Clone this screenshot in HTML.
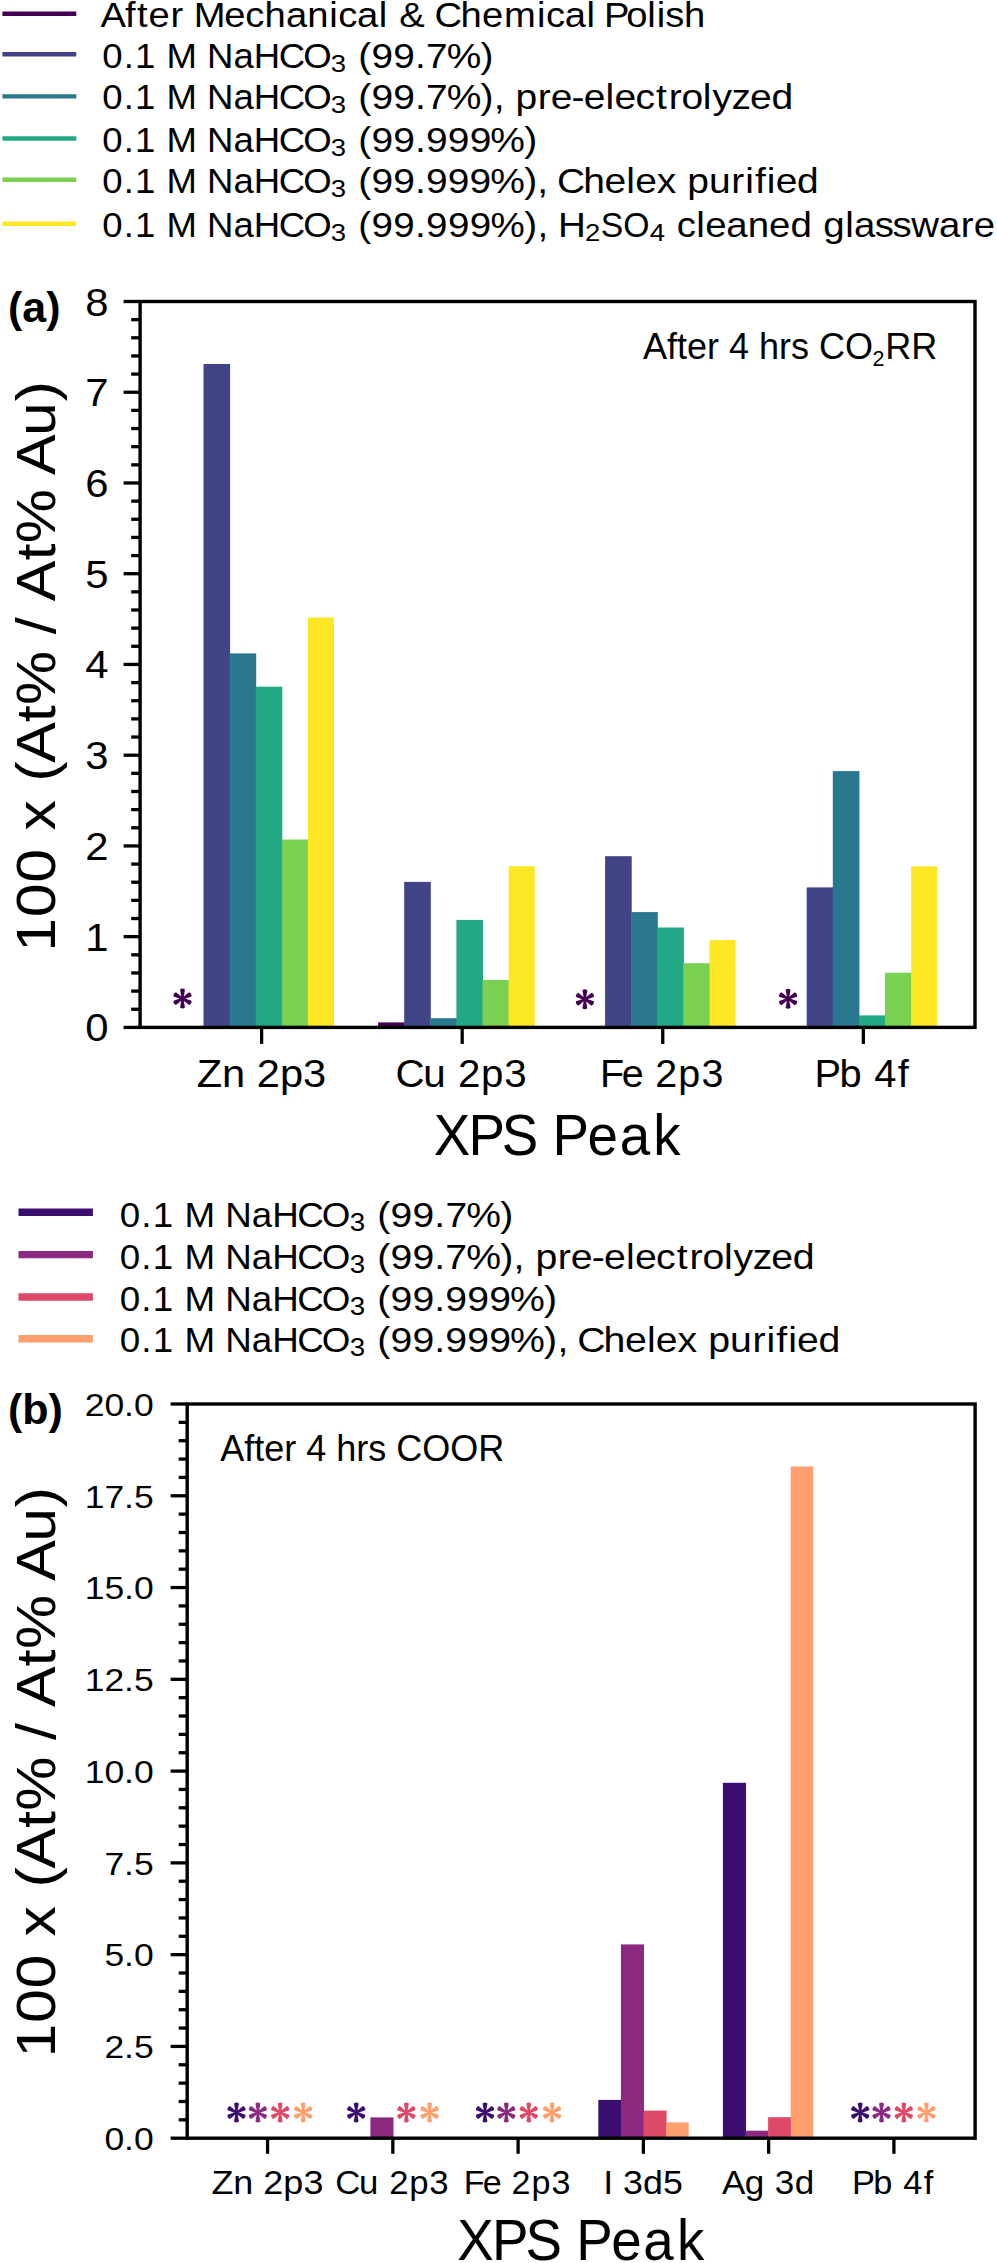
<!DOCTYPE html>
<html><head><meta charset="utf-8"><title>XPS Peak</title>
<style>
html,body{margin:0;padding:0;background:#fff;}
body{width:997px;height:2263px;overflow:hidden;}
svg{display:block;}
text{font-family:"Liberation Sans",sans-serif;}
</style></head><body>
<svg width="997" height="2263" viewBox="0 0 997 2263">
<rect width="997" height="2263" fill="#fff"/>
<line x1="2.40" y1="13.80" x2="76.30" y2="13.80" stroke="#440154" stroke-width="4.4" stroke-linecap="butt"/>
<line x1="2.40" y1="54.30" x2="76.30" y2="54.30" stroke="#414487" stroke-width="4.4" stroke-linecap="butt"/>
<line x1="2.40" y1="96.40" x2="76.30" y2="96.40" stroke="#2a788e" stroke-width="4.4" stroke-linecap="butt"/>
<line x1="2.40" y1="138.50" x2="76.30" y2="138.50" stroke="#22a884" stroke-width="4.4" stroke-linecap="butt"/>
<line x1="2.40" y1="179.80" x2="76.30" y2="179.80" stroke="#7ad151" stroke-width="4.4" stroke-linecap="butt"/>
<line x1="2.40" y1="223.70" x2="76.30" y2="223.70" stroke="#fde725" stroke-width="4.4" stroke-linecap="butt"/>
<text xml:space="preserve" transform="translate(101.50 26.70) scale(1.0801 1)" x="-0.93 21.85 32.82 43.63 63.86 76.40 85.35 113.72 133.19 151.01 170.80 190.59 210.94 219.18 236.67 256.68 265.17 275.71 300.03 308.30 332.41 352.24 372.57 403.23 411.47 428.95 448.97 457.46 465.19 485.90 505.33 514.16 521.94 539.30" y="0" font-size="35.33" fill="#000">After Mechanical &amp; Chemical Polish</text>
<text xml:space="preserve" transform="translate(101.50 67.60) scale(1.0346 1)" x="0.74 21.46 32.37 53.09 62.86 92.23 102.04 127.56 147.22 171.26 194.91" y="0" font-size="35.33" fill="#000">0.1 M NaHCO</text>
<text xml:space="preserve" transform="translate(330.87 71.60) scale(1.1130 1)" x="0.00" y="0" font-size="24.73" fill="#000">3</text>
<text xml:space="preserve" transform="translate(347.05 67.60) scale(1.0995 1)" x="0.06 10.13 22.21 42.06 61.84 71.82 90.65 121.41" y="0" font-size="35.33" fill="#000"> (99.7%)</text>
<text xml:space="preserve" transform="translate(101.50 108.90) scale(1.0346 1)" x="0.74 21.46 32.37 53.09 62.86 92.23 102.04 127.56 147.22 171.26 194.91" y="0" font-size="35.33" fill="#000">0.1 M NaHCO</text>
<text xml:space="preserve" transform="translate(330.87 112.90) scale(1.1130 1)" x="0.00" y="0" font-size="24.73" fill="#000">3</text>
<text xml:space="preserve" transform="translate(347.05 108.90) scale(1.1043 1)" x="0.03 10.06 22.07 41.83 61.55 71.47 90.19 120.85 132.82 142.69 152.58 172.76 184.43 203.17 214.40 234.14 242.14 261.21 279.76 291.27 302.88 322.23 330.84 348.18 364.91 384.33" y="0" font-size="35.33" fill="#000"> (99.7%), pre-electrolyzed</text>
<text xml:space="preserve" transform="translate(101.50 151.60) scale(1.0346 1)" x="0.74 21.46 32.37 53.09 62.86 92.23 102.04 127.56 147.22 171.26 194.91" y="0" font-size="35.33" fill="#000">0.1 M NaHCO</text>
<text xml:space="preserve" transform="translate(330.87 155.60) scale(1.1130 1)" x="0.00" y="0" font-size="24.73" fill="#000">3</text>
<text xml:space="preserve" transform="translate(347.05 151.60) scale(1.1026 1)" x="0.04 10.08 22.12 41.91 61.66 71.60 91.39 111.18 129.94 160.64" y="0" font-size="35.33" fill="#000"> (99.999%)</text>
<text xml:space="preserve" transform="translate(101.50 192.90) scale(1.0346 1)" x="0.74 21.46 32.37 53.09 62.86 92.23 102.04 127.56 147.22 171.26 194.91" y="0" font-size="35.33" fill="#000">0.1 M NaHCO</text>
<text xml:space="preserve" transform="translate(330.87 196.90) scale(1.1130 1)" x="0.00" y="0" font-size="24.73" fill="#000">3</text>
<text xml:space="preserve" transform="translate(347.05 192.90) scale(1.1033 1)" x="0.04 10.07 22.10 41.88 61.61 71.54 91.32 111.10 129.84 160.53 172.51 182.39 190.32 213.99 233.40 253.16 261.17 280.63 298.43 308.33 328.05 348.22 360.88 369.70 380.46 388.47 407.90" y="0" font-size="35.33" fill="#000"> (99.999%), Chelex purified</text>
<text xml:space="preserve" transform="translate(101.50 236.50) scale(1.0346 1)" x="0.74 21.46 32.37 53.09 62.86 92.23 102.04 127.56 147.22 171.26 194.91" y="0" font-size="35.33" fill="#000">0.1 M NaHCO</text>
<text xml:space="preserve" transform="translate(330.87 240.50) scale(1.1130 1)" x="0.00" y="0" font-size="24.73" fill="#000">3</text>
<text xml:space="preserve" transform="translate(347.05 236.50) scale(1.0926 1)" x="0.09 10.23 22.41 42.38 62.26 72.34 92.31 112.28 131.27 162.15 174.24 184.22 193.15" y="0" font-size="35.33" fill="#000"> (99.999%), H</text>
<text xml:space="preserve" transform="translate(584.93 240.50) scale(1.1130 1)" x="0.00" y="0" font-size="24.73" fill="#000">2</text>
<text xml:space="preserve" transform="translate(601.10 236.50) scale(0.9553 1)" x="-0.40 23.19" y="0" font-size="35.33" fill="#000">SO</text>
<text xml:space="preserve" transform="translate(649.87 240.50) scale(1.1130 1)" x="0.00" y="0" font-size="24.73" fill="#000">4</text>
<text xml:space="preserve" transform="translate(666.05 236.50) scale(1.0876 1)" x="0.11 9.86 27.82 36.03 55.39 75.05 94.74 114.45 134.38 144.50 164.76 172.93 191.79 208.22 225.40 250.92 271.00 282.90" y="0" font-size="35.33" fill="#000"> cleaned glassware</text>
<rect x="203.50" y="364.00" width="26.60" height="663.40" fill="#414487"/>
<rect x="229.60" y="653.40" width="26.60" height="374.00" fill="#2a788e"/>
<rect x="255.70" y="686.70" width="26.60" height="340.70" fill="#22a884"/>
<rect x="281.80" y="839.50" width="26.60" height="187.90" fill="#7ad151"/>
<rect x="307.90" y="617.60" width="26.10" height="409.80" fill="#fde725"/>
<rect x="378.10" y="1022.40" width="26.60" height="5.00" fill="#440154"/>
<rect x="404.20" y="881.90" width="26.60" height="145.50" fill="#414487"/>
<rect x="430.30" y="1018.20" width="26.60" height="9.20" fill="#2a788e"/>
<rect x="456.40" y="919.90" width="26.60" height="107.50" fill="#22a884"/>
<rect x="482.50" y="980.00" width="26.60" height="47.40" fill="#7ad151"/>
<rect x="508.60" y="866.20" width="26.10" height="161.20" fill="#fde725"/>
<rect x="605.10" y="856.20" width="26.60" height="171.20" fill="#414487"/>
<rect x="631.20" y="912.10" width="26.60" height="115.30" fill="#2a788e"/>
<rect x="657.30" y="927.50" width="26.60" height="99.90" fill="#22a884"/>
<rect x="683.40" y="963.20" width="26.60" height="64.20" fill="#7ad151"/>
<rect x="709.50" y="940.10" width="26.10" height="87.30" fill="#fde725"/>
<rect x="806.70" y="887.40" width="26.60" height="140.00" fill="#414487"/>
<rect x="832.80" y="771.10" width="26.60" height="256.30" fill="#2a788e"/>
<rect x="858.90" y="1015.40" width="26.60" height="12.00" fill="#22a884"/>
<rect x="885.00" y="972.70" width="26.60" height="54.70" fill="#7ad151"/>
<rect x="911.10" y="866.30" width="26.10" height="161.10" fill="#fde725"/>
<path d="M183.40,998.60L184.95,989.60A3.92,3.92 0 0 0 180.05,989.60L181.60,998.60ZM181.60,998.60L180.05,1007.60A3.92,3.92 0 0 0 184.95,1007.60L183.40,998.60ZM182.94,999.39L191.47,996.43A3.92,3.92 0 0 0 189.10,992.14L182.06,997.81ZM182.94,997.81L175.90,992.14A3.92,3.92 0 0 0 173.53,996.43L182.06,999.39ZM182.06,999.39L189.10,1005.06A3.92,3.92 0 0 0 191.47,1000.77L182.94,997.81ZM182.06,997.81L173.53,1000.77A3.92,3.92 0 0 0 175.90,1005.06L182.94,999.39Z" fill="#440154"/>
<path d="M585.80,999.20L587.35,990.20A3.92,3.92 0 0 0 582.45,990.20L584.00,999.20ZM584.00,999.20L582.45,1008.20A3.92,3.92 0 0 0 587.35,1008.20L585.80,999.20ZM585.34,999.99L593.87,997.03A3.92,3.92 0 0 0 591.50,992.74L584.46,998.41ZM585.34,998.41L578.30,992.74A3.92,3.92 0 0 0 575.93,997.03L584.46,999.99ZM584.46,999.99L591.50,1005.66A3.92,3.92 0 0 0 593.87,1001.37L585.34,998.41ZM584.46,998.41L575.93,1001.37A3.92,3.92 0 0 0 578.30,1005.66L585.34,999.99Z" fill="#440154"/>
<path d="M789.00,998.80L790.55,989.80A3.92,3.92 0 0 0 785.65,989.80L787.20,998.80ZM787.20,998.80L785.65,1007.80A3.92,3.92 0 0 0 790.55,1007.80L789.00,998.80ZM788.54,999.59L797.07,996.63A3.92,3.92 0 0 0 794.70,992.34L787.66,998.01ZM788.54,998.01L781.50,992.34A3.92,3.92 0 0 0 779.13,996.63L787.66,999.59ZM787.66,999.59L794.70,1005.26A3.92,3.92 0 0 0 797.07,1000.97L788.54,998.01ZM787.66,998.01L779.13,1000.97A3.92,3.92 0 0 0 781.50,1005.26L788.54,999.59Z" fill="#440154"/>
<line x1="123.60" y1="1027.40" x2="140.10" y2="1027.40" stroke="#000" stroke-width="3.298" stroke-linecap="butt"/>
<text xml:space="preserve" transform="translate(85.18 1041.40) scale(1.0970 1)" x="0.00" y="0" font-size="38.14" fill="#000">0</text>
<line x1="123.60" y1="936.66" x2="140.10" y2="936.66" stroke="#000" stroke-width="3.298" stroke-linecap="butt"/>
<text xml:space="preserve" transform="translate(85.18 950.66) scale(1.0970 1)" x="0.00" y="0" font-size="38.14" fill="#000">1</text>
<line x1="123.60" y1="845.93" x2="140.10" y2="845.93" stroke="#000" stroke-width="3.298" stroke-linecap="butt"/>
<text xml:space="preserve" transform="translate(85.18 859.93) scale(1.0970 1)" x="0.00" y="0" font-size="38.14" fill="#000">2</text>
<line x1="123.60" y1="755.19" x2="140.10" y2="755.19" stroke="#000" stroke-width="3.298" stroke-linecap="butt"/>
<text xml:space="preserve" transform="translate(85.18 769.19) scale(1.0970 1)" x="0.00" y="0" font-size="38.14" fill="#000">3</text>
<line x1="123.60" y1="664.45" x2="140.10" y2="664.45" stroke="#000" stroke-width="3.298" stroke-linecap="butt"/>
<text xml:space="preserve" transform="translate(85.18 678.45) scale(1.0970 1)" x="0.00" y="0" font-size="38.14" fill="#000">4</text>
<line x1="123.60" y1="573.71" x2="140.10" y2="573.71" stroke="#000" stroke-width="3.298" stroke-linecap="butt"/>
<text xml:space="preserve" transform="translate(85.18 587.71) scale(1.0970 1)" x="0.00" y="0" font-size="38.14" fill="#000">5</text>
<line x1="123.60" y1="482.98" x2="140.10" y2="482.98" stroke="#000" stroke-width="3.298" stroke-linecap="butt"/>
<text xml:space="preserve" transform="translate(85.18 496.98) scale(1.0970 1)" x="0.00" y="0" font-size="38.14" fill="#000">6</text>
<line x1="123.60" y1="392.24" x2="140.10" y2="392.24" stroke="#000" stroke-width="3.298" stroke-linecap="butt"/>
<text xml:space="preserve" transform="translate(85.18 406.24) scale(1.0970 1)" x="0.00" y="0" font-size="38.14" fill="#000">7</text>
<line x1="123.60" y1="301.50" x2="140.10" y2="301.50" stroke="#000" stroke-width="3.298" stroke-linecap="butt"/>
<text xml:space="preserve" transform="translate(85.18 315.50) scale(1.0970 1)" x="0.00" y="0" font-size="38.14" fill="#000">8</text>
<line x1="131.20" y1="1009.25" x2="140.10" y2="1009.25" stroke="#000" stroke-width="3.298" stroke-linecap="butt"/>
<line x1="131.20" y1="991.11" x2="140.10" y2="991.11" stroke="#000" stroke-width="3.298" stroke-linecap="butt"/>
<line x1="131.20" y1="972.96" x2="140.10" y2="972.96" stroke="#000" stroke-width="3.298" stroke-linecap="butt"/>
<line x1="131.20" y1="954.81" x2="140.10" y2="954.81" stroke="#000" stroke-width="3.298" stroke-linecap="butt"/>
<line x1="131.20" y1="918.52" x2="140.10" y2="918.52" stroke="#000" stroke-width="3.298" stroke-linecap="butt"/>
<line x1="131.20" y1="900.37" x2="140.10" y2="900.37" stroke="#000" stroke-width="3.298" stroke-linecap="butt"/>
<line x1="131.20" y1="882.22" x2="140.10" y2="882.22" stroke="#000" stroke-width="3.298" stroke-linecap="butt"/>
<line x1="131.20" y1="864.07" x2="140.10" y2="864.07" stroke="#000" stroke-width="3.298" stroke-linecap="butt"/>
<line x1="131.20" y1="827.78" x2="140.10" y2="827.78" stroke="#000" stroke-width="3.298" stroke-linecap="butt"/>
<line x1="131.20" y1="809.63" x2="140.10" y2="809.63" stroke="#000" stroke-width="3.298" stroke-linecap="butt"/>
<line x1="131.20" y1="791.48" x2="140.10" y2="791.48" stroke="#000" stroke-width="3.298" stroke-linecap="butt"/>
<line x1="131.20" y1="773.34" x2="140.10" y2="773.34" stroke="#000" stroke-width="3.298" stroke-linecap="butt"/>
<line x1="131.20" y1="737.04" x2="140.10" y2="737.04" stroke="#000" stroke-width="3.298" stroke-linecap="butt"/>
<line x1="131.20" y1="718.89" x2="140.10" y2="718.89" stroke="#000" stroke-width="3.298" stroke-linecap="butt"/>
<line x1="131.20" y1="700.75" x2="140.10" y2="700.75" stroke="#000" stroke-width="3.298" stroke-linecap="butt"/>
<line x1="131.20" y1="682.60" x2="140.10" y2="682.60" stroke="#000" stroke-width="3.298" stroke-linecap="butt"/>
<line x1="131.20" y1="646.30" x2="140.10" y2="646.30" stroke="#000" stroke-width="3.298" stroke-linecap="butt"/>
<line x1="131.20" y1="628.15" x2="140.10" y2="628.15" stroke="#000" stroke-width="3.298" stroke-linecap="butt"/>
<line x1="131.20" y1="610.01" x2="140.10" y2="610.01" stroke="#000" stroke-width="3.298" stroke-linecap="butt"/>
<line x1="131.20" y1="591.86" x2="140.10" y2="591.86" stroke="#000" stroke-width="3.298" stroke-linecap="butt"/>
<line x1="131.20" y1="555.57" x2="140.10" y2="555.57" stroke="#000" stroke-width="3.298" stroke-linecap="butt"/>
<line x1="131.20" y1="537.42" x2="140.10" y2="537.42" stroke="#000" stroke-width="3.298" stroke-linecap="butt"/>
<line x1="131.20" y1="519.27" x2="140.10" y2="519.27" stroke="#000" stroke-width="3.298" stroke-linecap="butt"/>
<line x1="131.20" y1="501.12" x2="140.10" y2="501.12" stroke="#000" stroke-width="3.298" stroke-linecap="butt"/>
<line x1="131.20" y1="464.83" x2="140.10" y2="464.83" stroke="#000" stroke-width="3.298" stroke-linecap="butt"/>
<line x1="131.20" y1="446.68" x2="140.10" y2="446.68" stroke="#000" stroke-width="3.298" stroke-linecap="butt"/>
<line x1="131.20" y1="428.53" x2="140.10" y2="428.53" stroke="#000" stroke-width="3.298" stroke-linecap="butt"/>
<line x1="131.20" y1="410.38" x2="140.10" y2="410.38" stroke="#000" stroke-width="3.298" stroke-linecap="butt"/>
<line x1="131.20" y1="374.09" x2="140.10" y2="374.09" stroke="#000" stroke-width="3.298" stroke-linecap="butt"/>
<line x1="131.20" y1="355.94" x2="140.10" y2="355.94" stroke="#000" stroke-width="3.298" stroke-linecap="butt"/>
<line x1="131.20" y1="337.79" x2="140.10" y2="337.79" stroke="#000" stroke-width="3.298" stroke-linecap="butt"/>
<line x1="131.20" y1="319.65" x2="140.10" y2="319.65" stroke="#000" stroke-width="3.298" stroke-linecap="butt"/>
<line x1="261.62" y1="1027.40" x2="261.62" y2="1043.90" stroke="#000" stroke-width="3.298" stroke-linecap="butt"/>
<text xml:space="preserve" transform="translate(196.94 1086.90) scale(1.0914 1)" x="-0.18 22.93 44.13 54.80 76.05 97.30" y="0" font-size="38.14" fill="#000">Zn 2p3</text>
<line x1="462.19" y1="1027.40" x2="462.19" y2="1043.90" stroke="#000" stroke-width="3.298" stroke-linecap="butt"/>
<text xml:space="preserve" transform="translate(397.27 1086.90) scale(1.0571 1)" x="-1.72 24.47 46.19 57.37 79.31 101.25" y="0" font-size="38.14" fill="#000">Cu 2p3</text>
<line x1="662.76" y1="1027.40" x2="662.76" y2="1043.90" stroke="#000" stroke-width="3.298" stroke-linecap="butt"/>
<text xml:space="preserve" transform="translate(601.42 1086.90) scale(1.0350 1)" x="-1.49 19.59 40.37 51.90 74.31 96.72" y="0" font-size="38.14" fill="#000">Fe 2p3</text>
<line x1="863.33" y1="1027.40" x2="863.33" y2="1043.90" stroke="#000" stroke-width="3.298" stroke-linecap="butt"/>
<text xml:space="preserve" transform="translate(816.90 1086.90) scale(1.0437 1)" x="-2.19 21.60 43.55 54.95 77.52" y="0" font-size="38.14" fill="#000">Pb 4f</text>
<rect x="140.10" y="301.50" width="834.90" height="725.90" fill="none" stroke="#000" stroke-width="3.4" stroke-linejoin="miter"/>
<text xml:space="preserve" transform="translate(433.40 1154.80) scale(0.9509 1)" x="0.26 36.83 71.98 110.25 125.18 162.00 195.86 231.28" y="0" font-size="57.51" fill="#000">XPS Peak</text>
<text xml:space="preserve" transform="translate(55.00 952.10) rotate(-90) scale(1.0904 1)" x="0.32 31.95 63.58 95.04 111.44 140.26 156.32 173.67 210.87 226.69 275.31 291.58 307.86 321.87 359.07 374.90 423.52 437.53 473.43 505.09" y="0" font-size="55.83" fill="#000">100 x (At% / At% Au)</text>
<text x="8.00" y="322.20" font-size="43.00" font-weight="bold" fill="#000">(a)</text>
<text x="643.00" y="358.70" font-size="36.00" font-weight="normal" fill="#000">After 4 hrs CO</text>
<text x="872.40" y="365.70" font-size="21.50" font-weight="normal" fill="#000">2</text>
<text x="885.30" y="358.70" font-size="36.00" font-weight="normal" fill="#000">RR</text>
<line x1="18.50" y1="1212.30" x2="92.90" y2="1212.30" stroke="#3b0f70" stroke-width="7.4" stroke-linecap="butt"/>
<line x1="18.50" y1="1254.60" x2="92.90" y2="1254.60" stroke="#8c2981" stroke-width="7.4" stroke-linecap="butt"/>
<line x1="18.50" y1="1297.00" x2="92.90" y2="1297.00" stroke="#de4968" stroke-width="7.4" stroke-linecap="butt"/>
<line x1="18.50" y1="1338.80" x2="92.90" y2="1338.80" stroke="#fe9f6d" stroke-width="7.4" stroke-linecap="butt"/>
<text xml:space="preserve" transform="translate(119.00 1226.70) scale(1.0346 1)" x="0.75 21.59 32.56 53.40 63.23 92.77 102.64 128.30 148.08 172.26 196.04" y="0" font-size="35.54" fill="#000">0.1 M NaHCO</text>
<text xml:space="preserve" transform="translate(349.71 1230.70) scale(1.1130 1)" x="0.00" y="0" font-size="24.87" fill="#000">3</text>
<text xml:space="preserve" transform="translate(365.97 1226.70) scale(1.0995 1)" x="0.06 10.19 22.34 42.30 62.20 72.24 91.18 122.12" y="0" font-size="35.54" fill="#000"> (99.7%)</text>
<text xml:space="preserve" transform="translate(119.00 1268.80) scale(1.0346 1)" x="0.75 21.59 32.56 53.40 63.23 92.77 102.64 128.30 148.08 172.26 196.04" y="0" font-size="35.54" fill="#000">0.1 M NaHCO</text>
<text xml:space="preserve" transform="translate(349.71 1272.80) scale(1.1130 1)" x="0.00" y="0" font-size="24.87" fill="#000">3</text>
<text xml:space="preserve" transform="translate(365.97 1268.80) scale(1.1043 1)" x="0.04 10.12 22.20 42.07 61.91 71.88 90.71 121.55 133.59 143.52 153.47 173.76 185.50 204.36 215.65 235.51 243.55 262.73 281.40 292.97 304.65 324.11 332.76 350.21 367.04 386.57" y="0" font-size="35.54" fill="#000"> (99.7%), pre-electrolyzed</text>
<text xml:space="preserve" transform="translate(119.00 1311.00) scale(1.0346 1)" x="0.75 21.59 32.56 53.40 63.23 92.77 102.64 128.30 148.08 172.26 196.04" y="0" font-size="35.54" fill="#000">0.1 M NaHCO</text>
<text xml:space="preserve" transform="translate(349.71 1315.00) scale(1.1130 1)" x="0.00" y="0" font-size="24.87" fill="#000">3</text>
<text xml:space="preserve" transform="translate(365.97 1311.00) scale(1.1026 1)" x="0.04 10.14 22.25 42.16 62.02 72.01 91.92 111.83 130.70 161.58" y="0" font-size="35.54" fill="#000"> (99.999%)</text>
<text xml:space="preserve" transform="translate(119.00 1351.50) scale(1.0346 1)" x="0.75 21.59 32.56 53.40 63.23 92.77 102.64 128.30 148.08 172.26 196.04" y="0" font-size="35.54" fill="#000">0.1 M NaHCO</text>
<text xml:space="preserve" transform="translate(349.71 1355.50) scale(1.1130 1)" x="0.00" y="0" font-size="24.87" fill="#000">3</text>
<text xml:space="preserve" transform="translate(365.97 1351.50) scale(1.1033 1)" x="0.04 10.13 22.23 42.12 61.97 71.96 91.85 111.75 130.60 161.46 173.51 183.45 191.43 215.23 234.76 254.63 262.69 282.26 300.17 310.13 329.96 350.25 362.98 371.85 382.68 390.73 410.28" y="0" font-size="35.54" fill="#000"> (99.999%), Chelex purified</text>
<rect x="370.40" y="2117.40" width="23.10" height="20.80" fill="#8c2981"/>
<rect x="598.30" y="2099.90" width="23.10" height="38.30" fill="#3b0f70"/>
<rect x="620.90" y="1944.40" width="23.10" height="193.80" fill="#8c2981"/>
<rect x="643.50" y="2110.60" width="23.10" height="27.60" fill="#de4968"/>
<rect x="666.10" y="2122.40" width="22.60" height="15.80" fill="#fe9f6d"/>
<rect x="722.90" y="1782.80" width="23.10" height="355.40" fill="#3b0f70"/>
<rect x="745.50" y="2130.70" width="23.10" height="7.50" fill="#8c2981"/>
<rect x="768.10" y="2117.20" width="23.10" height="21.00" fill="#de4968"/>
<rect x="790.70" y="1466.50" width="22.60" height="671.70" fill="#fe9f6d"/>
<path d="M237.40,2112.50L238.95,2103.50A3.92,3.92 0 0 0 234.05,2103.50L235.60,2112.50ZM235.60,2112.50L234.05,2121.50A3.92,3.92 0 0 0 238.95,2121.50L237.40,2112.50ZM236.94,2113.29L245.47,2110.33A3.92,3.92 0 0 0 243.10,2106.04L236.06,2111.71ZM236.94,2111.71L229.90,2106.04A3.92,3.92 0 0 0 227.53,2110.33L236.06,2113.29ZM236.06,2113.29L243.10,2118.96A3.92,3.92 0 0 0 245.47,2114.67L236.94,2111.71ZM236.06,2111.71L227.53,2114.67A3.92,3.92 0 0 0 229.90,2118.96L236.94,2113.29Z" fill="#3b0f70"/>
<path d="M258.80,2112.50L260.35,2103.50A3.92,3.92 0 0 0 255.45,2103.50L257.00,2112.50ZM257.00,2112.50L255.45,2121.50A3.92,3.92 0 0 0 260.35,2121.50L258.80,2112.50ZM258.34,2113.29L266.87,2110.33A3.92,3.92 0 0 0 264.50,2106.04L257.46,2111.71ZM258.34,2111.71L251.30,2106.04A3.92,3.92 0 0 0 248.93,2110.33L257.46,2113.29ZM257.46,2113.29L264.50,2118.96A3.92,3.92 0 0 0 266.87,2114.67L258.34,2111.71ZM257.46,2111.71L248.93,2114.67A3.92,3.92 0 0 0 251.30,2118.96L258.34,2113.29Z" fill="#8c2981"/>
<path d="M281.10,2112.50L282.65,2103.50A3.92,3.92 0 0 0 277.75,2103.50L279.30,2112.50ZM279.30,2112.50L277.75,2121.50A3.92,3.92 0 0 0 282.65,2121.50L281.10,2112.50ZM280.64,2113.29L289.17,2110.33A3.92,3.92 0 0 0 286.80,2106.04L279.76,2111.71ZM280.64,2111.71L273.60,2106.04A3.92,3.92 0 0 0 271.23,2110.33L279.76,2113.29ZM279.76,2113.29L286.80,2118.96A3.92,3.92 0 0 0 289.17,2114.67L280.64,2111.71ZM279.76,2111.71L271.23,2114.67A3.92,3.92 0 0 0 273.60,2118.96L280.64,2113.29Z" fill="#de4968"/>
<path d="M304.10,2112.50L305.65,2103.50A3.92,3.92 0 0 0 300.75,2103.50L302.30,2112.50ZM302.30,2112.50L300.75,2121.50A3.92,3.92 0 0 0 305.65,2121.50L304.10,2112.50ZM303.64,2113.29L312.17,2110.33A3.92,3.92 0 0 0 309.80,2106.04L302.76,2111.71ZM303.64,2111.71L296.60,2106.04A3.92,3.92 0 0 0 294.23,2110.33L302.76,2113.29ZM302.76,2113.29L309.80,2118.96A3.92,3.92 0 0 0 312.17,2114.67L303.64,2111.71ZM302.76,2111.71L294.23,2114.67A3.92,3.92 0 0 0 296.60,2118.96L303.64,2113.29Z" fill="#fe9f6d"/>
<path d="M357.10,2112.50L358.65,2103.50A3.92,3.92 0 0 0 353.75,2103.50L355.30,2112.50ZM355.30,2112.50L353.75,2121.50A3.92,3.92 0 0 0 358.65,2121.50L357.10,2112.50ZM356.64,2113.29L365.17,2110.33A3.92,3.92 0 0 0 362.80,2106.04L355.76,2111.71ZM356.64,2111.71L349.60,2106.04A3.92,3.92 0 0 0 347.23,2110.33L355.76,2113.29ZM355.76,2113.29L362.80,2118.96A3.92,3.92 0 0 0 365.17,2114.67L356.64,2111.71ZM355.76,2111.71L347.23,2114.67A3.92,3.92 0 0 0 349.60,2118.96L356.64,2113.29Z" fill="#3b0f70"/>
<path d="M407.30,2112.50L408.85,2103.50A3.92,3.92 0 0 0 403.95,2103.50L405.50,2112.50ZM405.50,2112.50L403.95,2121.50A3.92,3.92 0 0 0 408.85,2121.50L407.30,2112.50ZM406.84,2113.29L415.37,2110.33A3.92,3.92 0 0 0 413.00,2106.04L405.96,2111.71ZM406.84,2111.71L399.80,2106.04A3.92,3.92 0 0 0 397.43,2110.33L405.96,2113.29ZM405.96,2113.29L413.00,2118.96A3.92,3.92 0 0 0 415.37,2114.67L406.84,2111.71ZM405.96,2111.71L397.43,2114.67A3.92,3.92 0 0 0 399.80,2118.96L406.84,2113.29Z" fill="#de4968"/>
<path d="M430.50,2112.50L432.05,2103.50A3.92,3.92 0 0 0 427.15,2103.50L428.70,2112.50ZM428.70,2112.50L427.15,2121.50A3.92,3.92 0 0 0 432.05,2121.50L430.50,2112.50ZM430.04,2113.29L438.57,2110.33A3.92,3.92 0 0 0 436.20,2106.04L429.16,2111.71ZM430.04,2111.71L423.00,2106.04A3.92,3.92 0 0 0 420.63,2110.33L429.16,2113.29ZM429.16,2113.29L436.20,2118.96A3.92,3.92 0 0 0 438.57,2114.67L430.04,2111.71ZM429.16,2111.71L420.63,2114.67A3.92,3.92 0 0 0 423.00,2118.96L430.04,2113.29Z" fill="#fe9f6d"/>
<path d="M485.90,2112.50L487.45,2103.50A3.92,3.92 0 0 0 482.55,2103.50L484.10,2112.50ZM484.10,2112.50L482.55,2121.50A3.92,3.92 0 0 0 487.45,2121.50L485.90,2112.50ZM485.44,2113.29L493.97,2110.33A3.92,3.92 0 0 0 491.60,2106.04L484.56,2111.71ZM485.44,2111.71L478.40,2106.04A3.92,3.92 0 0 0 476.03,2110.33L484.56,2113.29ZM484.56,2113.29L491.60,2118.96A3.92,3.92 0 0 0 493.97,2114.67L485.44,2111.71ZM484.56,2111.71L476.03,2114.67A3.92,3.92 0 0 0 478.40,2118.96L485.44,2113.29Z" fill="#3b0f70"/>
<path d="M507.20,2112.50L508.75,2103.50A3.92,3.92 0 0 0 503.85,2103.50L505.40,2112.50ZM505.40,2112.50L503.85,2121.50A3.92,3.92 0 0 0 508.75,2121.50L507.20,2112.50ZM506.74,2113.29L515.27,2110.33A3.92,3.92 0 0 0 512.90,2106.04L505.86,2111.71ZM506.74,2111.71L499.70,2106.04A3.92,3.92 0 0 0 497.33,2110.33L505.86,2113.29ZM505.86,2113.29L512.90,2118.96A3.92,3.92 0 0 0 515.27,2114.67L506.74,2111.71ZM505.86,2111.71L497.33,2114.67A3.92,3.92 0 0 0 499.70,2118.96L506.74,2113.29Z" fill="#8c2981"/>
<path d="M529.70,2112.50L531.25,2103.50A3.92,3.92 0 0 0 526.35,2103.50L527.90,2112.50ZM527.90,2112.50L526.35,2121.50A3.92,3.92 0 0 0 531.25,2121.50L529.70,2112.50ZM529.24,2113.29L537.77,2110.33A3.92,3.92 0 0 0 535.40,2106.04L528.36,2111.71ZM529.24,2111.71L522.20,2106.04A3.92,3.92 0 0 0 519.83,2110.33L528.36,2113.29ZM528.36,2113.29L535.40,2118.96A3.92,3.92 0 0 0 537.77,2114.67L529.24,2111.71ZM528.36,2111.71L519.83,2114.67A3.92,3.92 0 0 0 522.20,2118.96L529.24,2113.29Z" fill="#de4968"/>
<path d="M553.00,2112.50L554.55,2103.50A3.92,3.92 0 0 0 549.65,2103.50L551.20,2112.50ZM551.20,2112.50L549.65,2121.50A3.92,3.92 0 0 0 554.55,2121.50L553.00,2112.50ZM552.54,2113.29L561.07,2110.33A3.92,3.92 0 0 0 558.70,2106.04L551.66,2111.71ZM552.54,2111.71L545.50,2106.04A3.92,3.92 0 0 0 543.13,2110.33L551.66,2113.29ZM551.66,2113.29L558.70,2118.96A3.92,3.92 0 0 0 561.07,2114.67L552.54,2111.71ZM551.66,2111.71L543.13,2114.67A3.92,3.92 0 0 0 545.50,2118.96L552.54,2113.29Z" fill="#fe9f6d"/>
<path d="M861.10,2112.50L862.65,2103.50A3.92,3.92 0 0 0 857.75,2103.50L859.30,2112.50ZM859.30,2112.50L857.75,2121.50A3.92,3.92 0 0 0 862.65,2121.50L861.10,2112.50ZM860.64,2113.29L869.17,2110.33A3.92,3.92 0 0 0 866.80,2106.04L859.76,2111.71ZM860.64,2111.71L853.60,2106.04A3.92,3.92 0 0 0 851.23,2110.33L859.76,2113.29ZM859.76,2113.29L866.80,2118.96A3.92,3.92 0 0 0 869.17,2114.67L860.64,2111.71ZM859.76,2111.71L851.23,2114.67A3.92,3.92 0 0 0 853.60,2118.96L860.64,2113.29Z" fill="#3b0f70"/>
<path d="M882.40,2112.50L883.95,2103.50A3.92,3.92 0 0 0 879.05,2103.50L880.60,2112.50ZM880.60,2112.50L879.05,2121.50A3.92,3.92 0 0 0 883.95,2121.50L882.40,2112.50ZM881.94,2113.29L890.47,2110.33A3.92,3.92 0 0 0 888.10,2106.04L881.06,2111.71ZM881.94,2111.71L874.90,2106.04A3.92,3.92 0 0 0 872.53,2110.33L881.06,2113.29ZM881.06,2113.29L888.10,2118.96A3.92,3.92 0 0 0 890.47,2114.67L881.94,2111.71ZM881.06,2111.71L872.53,2114.67A3.92,3.92 0 0 0 874.90,2118.96L881.94,2113.29Z" fill="#8c2981"/>
<path d="M904.70,2112.50L906.25,2103.50A3.92,3.92 0 0 0 901.35,2103.50L902.90,2112.50ZM902.90,2112.50L901.35,2121.50A3.92,3.92 0 0 0 906.25,2121.50L904.70,2112.50ZM904.24,2113.29L912.77,2110.33A3.92,3.92 0 0 0 910.40,2106.04L903.36,2111.71ZM904.24,2111.71L897.20,2106.04A3.92,3.92 0 0 0 894.83,2110.33L903.36,2113.29ZM903.36,2113.29L910.40,2118.96A3.92,3.92 0 0 0 912.77,2114.67L904.24,2111.71ZM903.36,2111.71L894.83,2114.67A3.92,3.92 0 0 0 897.20,2118.96L904.24,2113.29Z" fill="#de4968"/>
<path d="M927.30,2112.50L928.85,2103.50A3.92,3.92 0 0 0 923.95,2103.50L925.50,2112.50ZM925.50,2112.50L923.95,2121.50A3.92,3.92 0 0 0 928.85,2121.50L927.30,2112.50ZM926.84,2113.29L935.37,2110.33A3.92,3.92 0 0 0 933.00,2106.04L925.96,2111.71ZM926.84,2111.71L919.80,2106.04A3.92,3.92 0 0 0 917.43,2110.33L925.96,2113.29ZM925.96,2113.29L933.00,2118.96A3.92,3.92 0 0 0 935.37,2114.67L926.84,2111.71ZM925.96,2111.71L917.43,2114.67A3.92,3.92 0 0 0 919.80,2118.96L926.84,2113.29Z" fill="#fe9f6d"/>
<line x1="170.60" y1="2138.20" x2="187.20" y2="2138.20" stroke="#000" stroke-width="3.298" stroke-linecap="butt"/>
<text xml:space="preserve" transform="translate(104.40 2150.00) scale(1.1128 1)" x="0.00 17.72 26.58" y="0" font-size="31.93" fill="#000">0.0</text>
<line x1="170.60" y1="2046.42" x2="187.20" y2="2046.42" stroke="#000" stroke-width="3.298" stroke-linecap="butt"/>
<text xml:space="preserve" transform="translate(104.40 2058.22) scale(1.1128 1)" x="0.00 17.72 26.58" y="0" font-size="31.93" fill="#000">2.5</text>
<line x1="170.60" y1="1954.65" x2="187.20" y2="1954.65" stroke="#000" stroke-width="3.298" stroke-linecap="butt"/>
<text xml:space="preserve" transform="translate(104.40 1966.45) scale(1.1128 1)" x="0.00 17.72 26.58" y="0" font-size="31.93" fill="#000">5.0</text>
<line x1="170.60" y1="1862.88" x2="187.20" y2="1862.88" stroke="#000" stroke-width="3.298" stroke-linecap="butt"/>
<text xml:space="preserve" transform="translate(104.40 1874.67) scale(1.1128 1)" x="0.00 17.72 26.58" y="0" font-size="31.93" fill="#000">7.5</text>
<line x1="170.60" y1="1771.10" x2="187.20" y2="1771.10" stroke="#000" stroke-width="3.298" stroke-linecap="butt"/>
<text xml:space="preserve" transform="translate(84.67 1782.90) scale(1.1129 1)" x="0.00 17.72 35.44 44.30" y="0" font-size="31.93" fill="#000">10.0</text>
<line x1="170.60" y1="1679.32" x2="187.20" y2="1679.32" stroke="#000" stroke-width="3.298" stroke-linecap="butt"/>
<text xml:space="preserve" transform="translate(84.67 1691.12) scale(1.1129 1)" x="0.00 17.72 35.44 44.30" y="0" font-size="31.93" fill="#000">12.5</text>
<line x1="170.60" y1="1587.55" x2="187.20" y2="1587.55" stroke="#000" stroke-width="3.298" stroke-linecap="butt"/>
<text xml:space="preserve" transform="translate(84.67 1599.35) scale(1.1129 1)" x="0.00 17.72 35.44 44.30" y="0" font-size="31.93" fill="#000">15.0</text>
<line x1="170.60" y1="1495.78" x2="187.20" y2="1495.78" stroke="#000" stroke-width="3.298" stroke-linecap="butt"/>
<text xml:space="preserve" transform="translate(84.67 1507.58) scale(1.1129 1)" x="0.00 17.72 35.44 44.30" y="0" font-size="31.93" fill="#000">17.5</text>
<line x1="170.60" y1="1404.00" x2="187.20" y2="1404.00" stroke="#000" stroke-width="3.298" stroke-linecap="butt"/>
<text xml:space="preserve" transform="translate(84.67 1415.80) scale(1.1129 1)" x="0.00 17.72 35.44 44.30" y="0" font-size="31.93" fill="#000">20.0</text>
<line x1="178.70" y1="2119.84" x2="187.20" y2="2119.84" stroke="#000" stroke-width="3.298" stroke-linecap="butt"/>
<line x1="178.70" y1="2101.49" x2="187.20" y2="2101.49" stroke="#000" stroke-width="3.298" stroke-linecap="butt"/>
<line x1="178.70" y1="2083.13" x2="187.20" y2="2083.13" stroke="#000" stroke-width="3.298" stroke-linecap="butt"/>
<line x1="178.70" y1="2064.78" x2="187.20" y2="2064.78" stroke="#000" stroke-width="3.298" stroke-linecap="butt"/>
<line x1="178.70" y1="2028.07" x2="187.20" y2="2028.07" stroke="#000" stroke-width="3.298" stroke-linecap="butt"/>
<line x1="178.70" y1="2009.71" x2="187.20" y2="2009.71" stroke="#000" stroke-width="3.298" stroke-linecap="butt"/>
<line x1="178.70" y1="1991.36" x2="187.20" y2="1991.36" stroke="#000" stroke-width="3.298" stroke-linecap="butt"/>
<line x1="178.70" y1="1973.00" x2="187.20" y2="1973.00" stroke="#000" stroke-width="3.298" stroke-linecap="butt"/>
<line x1="178.70" y1="1936.29" x2="187.20" y2="1936.29" stroke="#000" stroke-width="3.298" stroke-linecap="butt"/>
<line x1="178.70" y1="1917.94" x2="187.20" y2="1917.94" stroke="#000" stroke-width="3.298" stroke-linecap="butt"/>
<line x1="178.70" y1="1899.58" x2="187.20" y2="1899.58" stroke="#000" stroke-width="3.298" stroke-linecap="butt"/>
<line x1="178.70" y1="1881.23" x2="187.20" y2="1881.23" stroke="#000" stroke-width="3.298" stroke-linecap="butt"/>
<line x1="178.70" y1="1844.52" x2="187.20" y2="1844.52" stroke="#000" stroke-width="3.298" stroke-linecap="butt"/>
<line x1="178.70" y1="1826.16" x2="187.20" y2="1826.16" stroke="#000" stroke-width="3.298" stroke-linecap="butt"/>
<line x1="178.70" y1="1807.81" x2="187.20" y2="1807.81" stroke="#000" stroke-width="3.298" stroke-linecap="butt"/>
<line x1="178.70" y1="1789.45" x2="187.20" y2="1789.45" stroke="#000" stroke-width="3.298" stroke-linecap="butt"/>
<line x1="178.70" y1="1752.74" x2="187.20" y2="1752.74" stroke="#000" stroke-width="3.298" stroke-linecap="butt"/>
<line x1="178.70" y1="1734.39" x2="187.20" y2="1734.39" stroke="#000" stroke-width="3.298" stroke-linecap="butt"/>
<line x1="178.70" y1="1716.03" x2="187.20" y2="1716.03" stroke="#000" stroke-width="3.298" stroke-linecap="butt"/>
<line x1="178.70" y1="1697.68" x2="187.20" y2="1697.68" stroke="#000" stroke-width="3.298" stroke-linecap="butt"/>
<line x1="178.70" y1="1660.97" x2="187.20" y2="1660.97" stroke="#000" stroke-width="3.298" stroke-linecap="butt"/>
<line x1="178.70" y1="1642.61" x2="187.20" y2="1642.61" stroke="#000" stroke-width="3.298" stroke-linecap="butt"/>
<line x1="178.70" y1="1624.26" x2="187.20" y2="1624.26" stroke="#000" stroke-width="3.298" stroke-linecap="butt"/>
<line x1="178.70" y1="1605.90" x2="187.20" y2="1605.90" stroke="#000" stroke-width="3.298" stroke-linecap="butt"/>
<line x1="178.70" y1="1569.19" x2="187.20" y2="1569.19" stroke="#000" stroke-width="3.298" stroke-linecap="butt"/>
<line x1="178.70" y1="1550.84" x2="187.20" y2="1550.84" stroke="#000" stroke-width="3.298" stroke-linecap="butt"/>
<line x1="178.70" y1="1532.48" x2="187.20" y2="1532.48" stroke="#000" stroke-width="3.298" stroke-linecap="butt"/>
<line x1="178.70" y1="1514.13" x2="187.20" y2="1514.13" stroke="#000" stroke-width="3.298" stroke-linecap="butt"/>
<line x1="178.70" y1="1477.42" x2="187.20" y2="1477.42" stroke="#000" stroke-width="3.298" stroke-linecap="butt"/>
<line x1="178.70" y1="1459.07" x2="187.20" y2="1459.07" stroke="#000" stroke-width="3.298" stroke-linecap="butt"/>
<line x1="178.70" y1="1440.71" x2="187.20" y2="1440.71" stroke="#000" stroke-width="3.298" stroke-linecap="butt"/>
<line x1="178.70" y1="1422.36" x2="187.20" y2="1422.36" stroke="#000" stroke-width="3.298" stroke-linecap="butt"/>
<line x1="267.56" y1="2138.20" x2="267.56" y2="2153.80" stroke="#000" stroke-width="3.298" stroke-linecap="butt"/>
<text xml:space="preserve" transform="translate(211.74 2193.90) scale(1.1073 1)" x="-0.15 19.50 37.54 46.61 64.69 82.77" y="0" font-size="32.45" fill="#000">Zn 2p3</text>
<line x1="392.83" y1="2138.20" x2="392.83" y2="2153.80" stroke="#000" stroke-width="3.298" stroke-linecap="butt"/>
<text xml:space="preserve" transform="translate(336.80 2193.90) scale(1.0725 1)" x="-1.47 20.81 39.29 48.80 67.46 86.13" y="0" font-size="32.45" fill="#000">Cu 2p3</text>
<line x1="518.10" y1="2138.20" x2="518.10" y2="2153.80" stroke="#000" stroke-width="3.298" stroke-linecap="butt"/>
<text xml:space="preserve" transform="translate(465.17 2193.90) scale(1.0500 1)" x="-1.27 16.66 34.34 44.15 63.21 82.28" y="0" font-size="32.45" fill="#000">Fe 2p3</text>
<line x1="643.37" y1="2138.20" x2="643.37" y2="2153.80" stroke="#000" stroke-width="3.298" stroke-linecap="butt"/>
<text xml:space="preserve" transform="translate(603.68 2193.90) scale(1.1021 1)" x="-0.29 8.47 17.60 35.77 53.93" y="0" font-size="32.45" fill="#000">I 3d5</text>
<line x1="768.64" y1="2138.20" x2="768.64" y2="2153.80" stroke="#000" stroke-width="3.298" stroke-linecap="butt"/>
<text xml:space="preserve" transform="translate(722.84 2193.90) scale(1.0816 1)" x="-0.87 20.16 38.54 47.93 66.44" y="0" font-size="32.45" fill="#000">Ag 3d</text>
<line x1="893.91" y1="2138.20" x2="893.91" y2="2153.80" stroke="#000" stroke-width="3.298" stroke-linecap="butt"/>
<text xml:space="preserve" transform="translate(853.84 2193.90) scale(1.0589 1)" x="-1.86 18.38 37.05 46.74 65.94" y="0" font-size="32.45" fill="#000">Pb 4f</text>
<rect x="187.20" y="1404.00" width="787.90" height="734.20" fill="none" stroke="#000" stroke-width="3.4"/>
<text xml:space="preserve" transform="translate(457.10 2259.80) scale(0.9509 1)" x="0.26 36.83 71.98 110.25 125.18 162.00 195.86 231.28" y="0" font-size="57.51" fill="#000">XPS Peak</text>
<text xml:space="preserve" transform="translate(54.70 2057.90) rotate(-90) scale(1.0904 1)" x="0.32 31.95 63.58 95.04 111.44 140.26 156.32 173.67 210.87 226.69 275.31 291.58 307.86 321.87 359.07 374.90 423.52 437.53 473.43 505.09" y="0" font-size="55.83" fill="#000">100 x (At% / At% Au)</text>
<text x="8.00" y="1423.70" font-size="43.00" font-weight="bold" fill="#000">(b)</text>
<text x="220.20" y="1461.10" font-size="36.00" font-weight="normal" fill="#000">After 4 hrs COOR</text>
</svg>
</body></html>
